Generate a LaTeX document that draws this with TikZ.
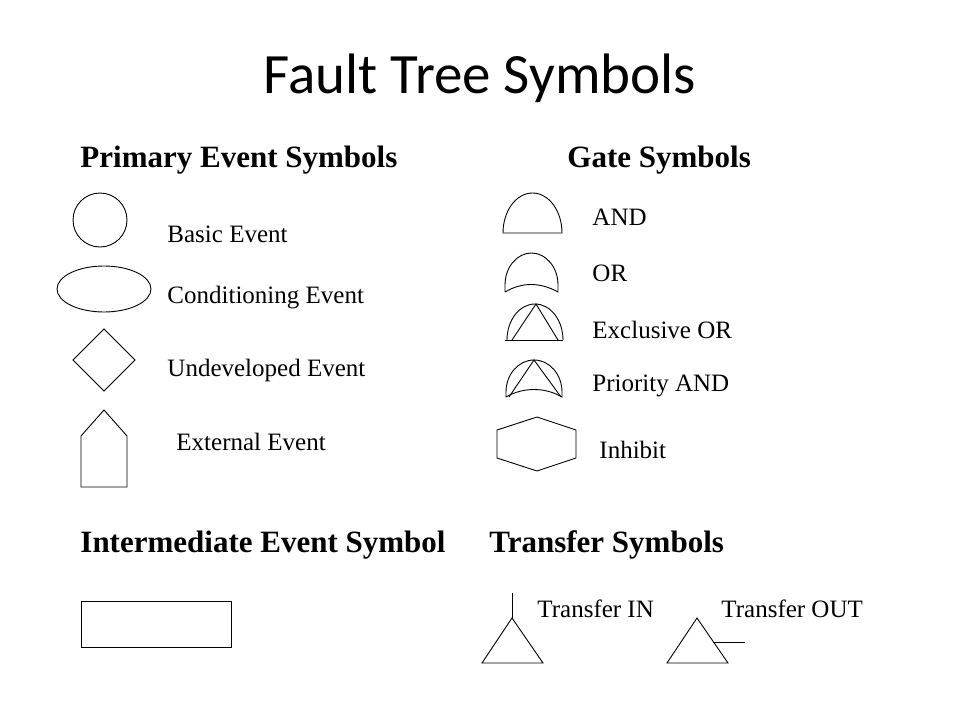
\documentclass[tikz,border=0pt]{standalone}
\usepackage{fontspec}
\setmainfont{Liberation Serif}
\newfontfamily\titlefont{Carlito}
\begin{document}
\begin{tikzpicture}[x=1pt,y=-1pt,line width=0.9pt,
  lbl/.style={anchor=west,font=\fontsize{25}{28}\selectfont,inner sep=0},
  hd/.style={anchor=west,font=\bfseries\fontsize{31}{34}\selectfont,inner sep=0}]
\useasboundingbox (0,0) rectangle (960,720);
\node[font=\titlefont\fontsize{57}{62}\selectfont] (title) at (480,78) {Fault Tree Symbols};
\node[hd] (h1) at (80,160) {Primary Event Symbols};
\node[hd] (h2) at (567,160) {Gate Symbols};
\node[hd] (h3) at (80,545) {Intermediate Event Symbol};
\node[hd] (h4) at (489,545) {Transfer Symbols};
% primary
\draw (100,220) circle (27);
\draw (104,289) ellipse (47 and 23);
\draw (104,329) -- (135,360) -- (104,391) -- (73,360) -- cycle;
\draw (81,487) -- (81,436) -- (104,410) -- (127,436) -- (127,487) -- cycle;
\node[lbl] (l1) at (167,234) {Basic Event};
\node[lbl] (l2) at (167,298) {Conditioning Event};
\node[lbl] (l3) at (167,370) {Undeveloped Event};
\node[lbl] (l4) at (176,442) {External Event};
% gates
\draw (503,233) arc[start angle=180,end angle=360,x radius=29.5,y radius=40] -- cycle;
\draw (505,292) -- (505,285) arc[start angle=180,end angle=360,x radius=26.5,y radius=32] -- (558,292) .. controls (540,282) and (522,282) .. (505,292);
\draw (507,340) arc[start angle=180,end angle=360,x radius=28,y radius=36];
\draw (505,340) -- (563,340);
\draw (512,340) -- (536,304) -- (558,340);
\draw (506,397) -- (506,392) arc[start angle=180,end angle=360,x radius=28,y radius=32] -- (562,397) .. controls (545,387) and (523,387) .. (506,397);
\draw (509,397) -- (534,360) -- (561,397);
\draw (497,430) -- (537,417) -- (576,430) -- (576,458) -- (537,471) -- (497,458) -- cycle;
\node[lbl] (g1) at (592,217) {AND};
\node[lbl] (g2) at (592,273) {OR};
\node[lbl] (g3) at (592,330) {Exclusive OR};
\node[lbl] (g4) at (592,386) {Priority AND};
\node[lbl] (g5) at (599,450) {Inhibit};
% intermediate
\draw (81,601) rectangle (231,647);
% transfer
\draw (512,593) -- (512,618);
\draw (512,618) -- (543,663) -- (482,663) -- cycle;
\draw (697,618) -- (728,663) -- (667,663) -- cycle;
\draw (713,642) -- (745,642);
\node[lbl] (t1) at (537,609) {Transfer IN};
\node[lbl] (t2) at (721,609) {Transfer OUT};
\end{tikzpicture}
\end{document}
